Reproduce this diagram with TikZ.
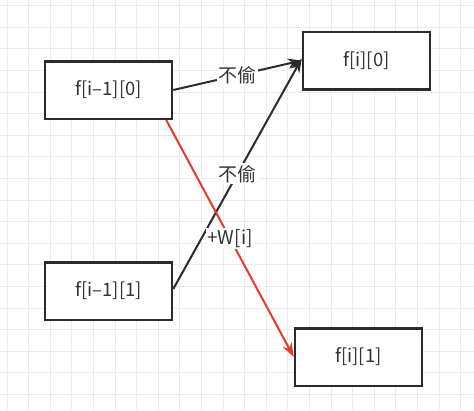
\documentclass[tikz,border=0pt]{standalone}
\usepackage{fontspec}
\setmainfont{Noto Sans CJK SC}
\usepackage{tikz}
\usetikzlibrary{arrows.meta}
\definecolor{gridc}{HTML}{EBEBEB}
\definecolor{boxc}{HTML}{2B2B2B}
\definecolor{txtc}{HTML}{333333}
\definecolor{redc}{HTML}{E8392B}

\begin{document}
\begin{tikzpicture}[x=1pt,y=-1pt,
  statebox/.style={draw=boxc, line width=2.5pt, fill=white, minimum width=127pt, minimum height=57.5pt, inner sep=0pt, font=\fontsize{18.5}{18.5}\selectfont, text=txtc},
  edge/.style={line width=2pt, boxc, -{Stealth[length=14pt,width=10pt]}},
  redge/.style={edge, redc},
  elabel/.style={fill=white, inner sep=1.5pt, font=\fontsize{19}{19}\selectfont, text=txtc}]
\useasboundingbox (0,0) rectangle (474,410);
\fill[white] (0,0) rectangle (474,410);
\foreach \k in {0,...,21} {
  \draw[gridc, line width=0.8pt] (7+21.6*\k,0) -- (7+21.6*\k,410);
}
\foreach \k in {0,...,18} {
  \draw[gridc, line width=0.8pt] (0,5.5+21.6*\k) -- (474,5.5+21.6*\k);
}
\node[statebox] (p0) at (108.5,90) {f[i–1][0]};
\node[statebox] (p1) at (108.5,291) {f[i–1][1]};
\node[statebox] (c0) at (366.5,60.5) {f[i][0]};
\node[statebox] (c1) at (358.5,357) {f[i][1]};
\draw[edge] (p0.east) -- node[elabel] (l0) {不偷} (c0.west);
\draw[edge] ([yshift=2pt]p1.east) -- node[elabel] (l1) {不偷} ([yshift=2pt]c0.west);
\draw[redge] ([xshift=-7pt]p0.south east) -- node[elabel] (l2) {+W[i]} (c1.west);
\end{tikzpicture}
\end{document}
